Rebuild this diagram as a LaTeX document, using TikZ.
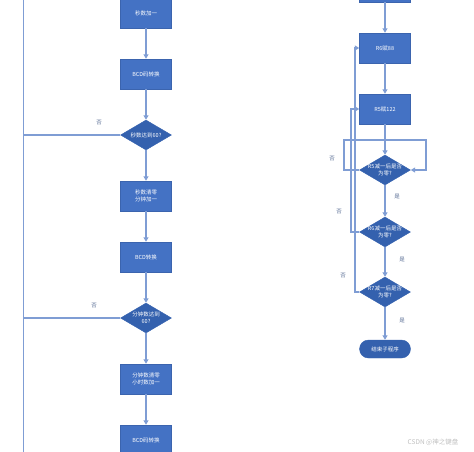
\documentclass[tikz,border=0pt]{standalone}
\usepackage{fontspec}
\newfontfamily\cjk{Noto Sans CJK SC}
\usetikzlibrary{shapes.geometric,shapes.misc,arrows.meta}
\definecolor{boxblue}{HTML}{4472C4}
\definecolor{boxedge}{HTML}{3B64AE}
\definecolor{diablue}{HTML}{3461AE}
\definecolor{linecol}{HTML}{7F9DD4}
\definecolor{labcol}{HTML}{5A6E95}
\begin{document}
\begin{tikzpicture}[x=1pt,y=-1pt,
  txt/.style={text=white, font=\cjk\fontsize{5.5}{7}\selectfont, align=center},
  box/.style={draw=boxedge, line width=0.5pt, fill=boxblue, minimum width=51pt, minimum height=30pt, inner sep=0pt, txt},
  dia/.style={diamond, draw=diablue, fill=diablue, minimum width=51pt, minimum height=30pt, inner sep=0pt, aspect=1.7},
  term/.style={rounded rectangle, draw=diablue, fill=diablue, minimum width=51pt, minimum height=18pt, inner sep=0pt, txt},
  conn/.style={draw=linecol, line width=1.1pt},
  arr/.style={conn, -{Triangle[length=4.5pt,width=5pt]}},
  lab/.style={text=labcol, font=\cjk\fontsize{5.5}{6.5}\selectfont},
]
\useasboundingbox (0,0) rectangle (474,451);
\clip (0,0) rectangle (474,451);
% left column
\node[box] (b1) at (146,13) {秒数加一};
\node[box] (b2) at (146,74) {BCD码转换};
\node[dia, label={[txt]center:秒数达到60?}] (d1) at (146,135) {};
\node[box] (b3) at (146,196) {秒数清零\\分钟加一};
\node[box] (b4) at (146,257) {BCD转换};
\node[dia, label={[txt]center:分钟数达到\\60?}] (d2) at (146,318) {};
\node[box] (b5) at (146,379) {分钟数清零\\小时数加一};
\node[box] (b6) at (146,440) {BCD码转换};
\coordinate (ltop) at (23.5,-2);
\coordinate (lbot) at (23.5,453);
\coordinate (l1) at (23.5,135);
\coordinate (l2) at (23.5,318);
\draw[conn] (ltop) -- (lbot);
\draw[arr] (b1) -- (b2);
\draw[arr] (b2) -- (d1);
\draw[arr] (d1) -- (b3);
\draw[arr] (b3) -- (b4);
\draw[arr] (b4) -- (d2);
\draw[arr] (d2) -- (b5);
\draw[arr] (b5) -- (b6);
\draw[conn] (d1.west) -- (l1);
\draw[conn] (d2.west) -- (l2);
\node[lab] (n1) at (99,123) {否};
\node[lab] (n2) at (94,306) {否};
% right column
\node[box] (r0) at (385,-13) {};
\node[box] (r1) at (385,48) {R6赋88};
\node[box] (r2) at (385,109) {R5赋122};
\node[dia, label={[txt]center:R5减一后是否\\为零?}] (d5) at (385,170) {};
\node[dia, label={[txt]center:R6减一后是否\\为零?}] (d6) at (385,232) {};
\node[dia, label={[txt]center:R7减一后是否\\为零?}] (d7) at (385,292) {};
\node[term] (t) at (385,349) {结束子程序};
\draw[arr] (r0) -- (r1);
\draw[arr] (r1) -- (r2);
\draw[arr] (r2) -- (d5);
\draw[arr] (d5) -- (d6);
\draw[arr] (d6) -- (d7);
\draw[arr] (d7) -- (t);
\draw[arr] (d5.west) -- (344,170) -- (344,140) -- (426,140) -- (426,170) -- (d5.east);
\draw[arr] (d6.west) -- (351,232) -- (351,109) -- (r2.west);
\draw[arr] (d7.west) -- (355,292) -- (355,48) -- (r1.west);
\node[lab] (n5) at (332,159) {否};
\node[lab] (n6) at (339,212) {否};
\node[lab] (n7) at (343,276) {否};
\node[lab] (y5) at (397,197) {是};
\node[lab] (y6) at (402,260) {是};
\node[lab] (y7) at (402,321) {是};
\node[text=black!25, font=\cjk\fontsize{6.5}{8}\selectfont] (wm) at (433,442) {CSDN @神之键盘};
\end{tikzpicture}
\end{document}
